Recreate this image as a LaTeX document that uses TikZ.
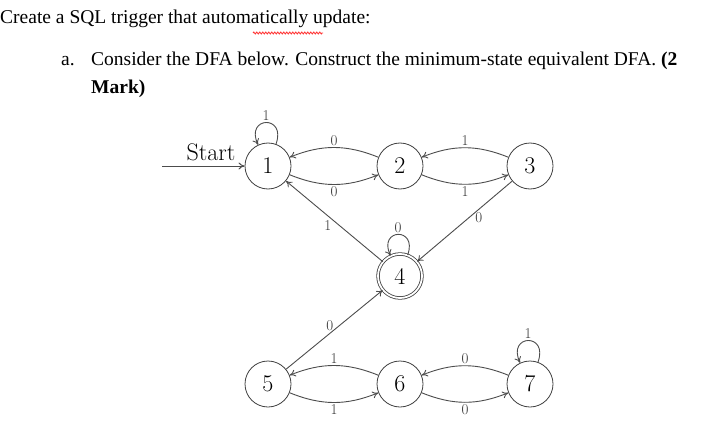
\documentclass[tikz,border=0pt]{standalone}
\usepackage{fontspec}
\newfontfamily\tnr{Liberation Serif}
\usetikzlibrary{arrows.meta,decorations.pathmorphing}
\begin{document}
\begin{tikzpicture}[x=1pt,y=-1pt,
  st/.style={circle,draw=black!75,line width=0.8pt,minimum size=46pt,inner sep=0pt,font=\fontsize{24}{24}\selectfont},
  acc/.style={st,double,double distance=1.8pt,minimum size=44pt},
  ed/.style={draw=black!70,line width=0.9pt,-{To[length=6pt,width=7pt]}},
  lp/.style={ed,out=70,in=115,looseness=4.5},
  lb/.style={font=\fontsize{15}{15}\selectfont,text=black!80,inner sep=1.5pt},
  txt/.style={font=\tnr\fontsize{19.5}{19.5}\selectfont,anchor=base west,inner sep=0pt}]
\useasboundingbox (0,0) rectangle (717,433);
\node[txt] (t1) at (0,24) {Create a SQL trigger that automatically update:};
\draw[red!80,line width=0.9pt,decorate,decoration={zigzag,segment length=3pt,amplitude=0.9pt}] (253,33) -- (323,33);
\node[txt] (t2) at (61,66) {a.};
\node[txt] (t3) at (91,66) {Consider the DFA below. Construct the minimum-state equivalent DFA. \textbf{(2}};
\node[txt] (t4) at (91,94) {\textbf{Mark)}};
\node[st] (n1) at (268,166) {1};
\node[st] (n2) at (400,166) {2};
\node[st] (n3) at (530,166) {3};
\node[acc] (n4) at (400,276) {4};
\node[st] (n5) at (268,384) {5};
\node[st] (n6) at (400,384) {6};
\node[st] (n7) at (530,384) {7};
\coordinate (s) at (162,166);
\node[font=\fontsize{24}{24}\selectfont,inner sep=0pt] (sl) at (211,152) {Start};
\draw[ed] (s) -- (n1);
\draw (n1) edge[lp] node[lb,above] {1} (n1);
\draw[ed] (n2) to[bend right=22] node[lb,above] {0} (n1);
\draw[ed] (n1) to[bend right=22] node[lb,below] {0} (n2);
\draw[ed] (n3) to[bend right=22] node[lb,above] {1} (n2);
\draw[ed] (n2) to[bend right=22] node[lb,below] {1} (n3);
\draw[ed] (n4) -- node[lb,left,pos=0.45,xshift=-6pt] {1} (n1);
\draw[ed] (n3) -- node[lb,right,pos=0.45,xshift=4pt] {0} (n4);
\draw (n4) edge[lp] node[lb,above] {0} (n4);
\draw[ed] (n5) -- node[lb,left,pos=0.55,xshift=-4pt] {0} (n4);
\draw[ed] (n6) to[bend right=22] node[lb,above] {1} (n5);
\draw[ed] (n5) to[bend right=22] node[lb,below] {1} (n6);
\draw[ed] (n7) to[bend right=22] node[lb,above] {0} (n6);
\draw[ed] (n6) to[bend right=22] node[lb,below] {0} (n7);
\draw (n7) edge[lp] node[lb,above] {1} (n7);
\end{tikzpicture}
\end{document}
